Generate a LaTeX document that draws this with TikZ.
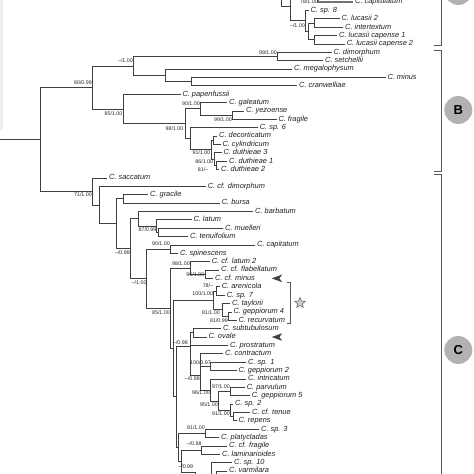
\documentclass[tikz,border=0pt]{standalone}
\usepackage{fontspec}
\newfontfamily\ars{Liberation Sans}
\usetikzlibrary{shapes.geometric}
\begin{document}
\begin{tikzpicture}[x=1pt,y=-1pt,
  br/.style={line width=0.7pt,draw=black!75},
  leaf/.style={anchor=west,inner xsep=1.6pt,inner ysep=0pt,text height=5.2pt,text depth=1.4pt,font=\ars\itshape\fontsize{7.4}{8}\selectfont,text=black!88},
  sup/.style={anchor=east,inner sep=0pt,font=\ars\fontsize{5.3}{6}\selectfont,text=black!85},
  brk/.style={line width=0.8pt,draw=black!65},
  cladecirc/.style={circle,fill=black!30,minimum size=28pt,inner sep=0pt,font=\ars\bfseries\fontsize{13}{14}\selectfont},
  arrmark/.style={fill=black!75},
  starmark/.style={star,star points=5,star point ratio=2.3,minimum size=11pt,inner sep=0pt,draw=black!60,fill=black!18,line width=0.6pt}
]
\useasboundingbox (0,0) rectangle (474,474);
\clip (0,0) rectangle (474,474);
\fill[black!7] (0,0) rectangle (3,130);

% ---------- leaves ----------
\foreach \n/\x/\y/\t in {
 capitulatum/353.4/2/C. capitulatum,
 sp8/308.9/10.375/C. sp. 8,
 lucasiiB/339.9/18.75/C. lucasii 2,
 intertextum/343.4/27.125/C. intertextum,
 capenseA/337.4/35.5/C. lucasii capense 1,
 capenseB/345.1/43.875/C. lucasii capense 2,
 dimorphum/331.7/52.25/C. dimorphum,
 setchellii/323.4/60.625/C. setchellii,
 megalophysum/292.4/69/C. megalophysum,
 minus/385.7/77.375/C. minus,
 cranwelliae/297.4/85.75/C. cranwelliae,
 papenfussii/180.7/94.125/C. papenfussii,
 galeatum/227.4/102.5/C. galeatum,
 yezoense/244.4/110.875/C. yezoense,
 fragile/276.7/119.25/C. fragile,
 spsix/258.1/127.625/C. sp. 6,
 decorticatum/217.4/136/C. decorticatum,
 cylindricum/220.7/144.375/C. cylindricum,
 duthC/221.7/152.75/C. duthieae 3,
 duthA/227.4/161.125/C. duthieae 1,
 duthB/219.4/169.5/C. duthieae 2,
 saccatum/107.4/177.875/C. saccatum,
 cfdimorphum/206.1/186.25/C. cf. dimorphum,
 gracile/148.4/194.625/C. gracile,
 bursa/220.1/203/C. bursa,
 barbatum/253.4/211.375/C. barbatum,
 latum/191.7/219.75/C. latum,
 muelleri/223.4/228.125/C. muelleri,
 tenuifolium/188.4/236.5/C. tenuifolium,
 capitatum/255.4/244.875/C. capitatum,
 spinescens/178.4/253.25/C. spinescens,
 cflatum/210.1/261.625/C. cf. latum 2,
 cfflabellatum/219.4/270/C. cf. flabellatum,
 cfminus/213.4/278.375/C. cf. minus,
 arenicola/220.1/286.75/C. arenicola,
 spseven/225.1/295.125/C. sp. 7,
 taylorii/230.4/303.5/C. taylorii,
 geppD/231.7/311.875/C. geppiorum 4,
 recurvatum/236.7/320.25/C. recurvatum,
 subtubulosum/221.4/328.625/C. subtubulosum,
 ovale/206.7/337/C. ovale,
 prostratum/228.4/345.375/C. prostratum,
 contractum/223.4/353.75/C. contractum,
 spone/246.4/362.125/C. sp. 1,
 geppB/236.7/370.5/C. geppiorum 2,
 intricatum/246.4/378.875/C. intricatum,
 parvulum/245.1/387.25/C. parvulum,
 geppE/250.1/395.625/C. geppiorum 5,
 sptwo/233.4/404/C. sp. 2,
 cftenue/250.4/412.375/C. cf. tenue,
 repens/236.7/420.75/C. repens,
 spthree/259.4/429.125/C. sp. 3,
 platycladas/219.4/437.5/C. platycladas,
 cffragile/227.4/445.875/C. cf. fragile,
 laminarioides/220.4/454.25/C. laminarioides,
 spten/232.4/462.625/C. sp. 10,
 varmilara/227.4/471/C. varmilara}
 \node[leaf] (\n) at (\x,\y) {\t};

% ---------- internal nodes ----------
\foreach \n/\x/\y in {
 nAz/281.7/-20, nAa/290/6, nAu/300/-8.84, nAb/305/20.84, nAc/308.3/31.31, nAd/314/22.94, nAe/314/39.69, nAcap/318/-10,
 tip/-5/139.42, root/40/139.42,
 nB/92/87.39, nBa/133.3/65.86, nBb/277.7/56.44, nBc/165.7/75.28, nBd/191/81.56,
 nBe/123.3/108.91, nBf/185/123.7, nBg/200/108.78, nBh/232/115.06, nBi/190/138.62,
 nBj/211/149.61, nBk/213/140.19, nBl/214/159.03, nBm/216/165.31,
 nC/92.3/191.44, nCa/99/205, nCb/116.7/223.75, nCc/123.3/198.81, nCd/130/248.68,
 nCe/138.3/218.7, nCf/156.7/226.03, nCg/158.3/232.31, nCh/146.7/278.66,
 nCi/170/249.06, nCj/170/308.25, nCk/190/267.91, nCl/205/274.19, nCm/173.3/348.6,
 nCn/213.3/300.36, nCo/216.7/290.94, nCp/222/309.78, nCq/228/316.06,
 nCr/176.7/396.83, nCs/190/346.49, nCt/193.3/332.81, nCu/190/360.16,
 nCv/200/374.95, nCw/200/360.03, nCx/210/366.31, nCy/210/389.87, nCz/218/400.86,
 nDa/230/391.44, nDb/230/410.28, nDc/233.3/416.56,
 nDd/178.3/447.17, nDe/205/433.31, nDf/181.7/461.03, nDg/201.7/450.06,
 nDh/195/472, nDi/211.7/476, nDj/205/495, nDk/216.7/489.5, nDl/225/508}
 \coordinate (\n) at (\x,\y);

% ---------- branches to internal nodes ----------
\foreach \p/\c in {
 nAz/nAa, nAa/nAu, nAa/nAb, nAb/nAc, nAc/nAd, nAc/nAe,
 root/nB, root/nC,
 nB/nBa, nB/nBe, nBa/nBb, nBa/nBc, nBc/nBd, nBe/nBf, nBf/nBg, nBf/nBi,
 nBg/nBh, nBi/nBj, nBj/nBk, nBj/nBl, nBl/nBm,
 nC/nCa, nCa/nCb, nCb/nCc, nCb/nCd, nCd/nCe, nCd/nCh, nCe/nCf, nCf/nCg,
 nCh/nCi, nCh/nCj, nCj/nCk, nCj/nCm, nCk/nCl, nCm/nCn, nCm/nCr,
 nCn/nCo, nCn/nCp, nCp/nCq, nCr/nCs, nCr/nDd, nCs/nCt, nCs/nCu, nCu/nCv,
 nCv/nCw, nCv/nCy, nCw/nCx, nCy/nCz, nCz/nDa, nCz/nDb, nDb/nDc,
 nDd/nDe, nDd/nDf, nDf/nDg, nDf/nDh, nDh/nDi, nDh/nDj, nDi/nDk, nDk/nDl}
 \draw[br] (\p) |- (\c);
\draw[br] (tip) -- (root);

% ---------- branches to leaves ----------
\foreach \p/\c in {
 nAb/sp8, nAd/lucasiiB, nAd/intertextum, nAe/capenseA, nAe/capenseB,
 nBb/dimorphum, nBb/setchellii, nBc/megalophysum, nBd/minus, nBd/cranwelliae,
 nBe/papenfussii, nBg/galeatum, nBh/yezoense, nBh/fragile, nBi/spsix,
 nBk/decorticatum, nBk/cylindricum, nBl/duthC, nBm/duthA, nBm/duthB,
 nC/saccatum, nCa/cfdimorphum, nCc/gracile, nCc/bursa, nCe/barbatum,
 nCf/latum, nCg/muelleri, nCg/tenuifolium, nCi/capitatum, nCi/spinescens,
 nCk/cflatum, nCl/cfflabellatum, nCl/cfminus, nCo/arenicola, nCo/spseven,
 nCp/taylorii, nCq/geppD, nCq/recurvatum, nCt/subtubulosum, nCt/ovale,
 nCu/prostratum, nCw/contractum, nCx/spone, nCx/geppB, nCy/intricatum,
 nDa/parvulum, nDa/geppE, nDb/sptwo, nDc/cftenue, nDc/repens,
 nDe/spthree, nDe/platycladas, nDg/cffragile, nDg/laminarioides,
 nDi/spten, nDk/varmilara}
 \draw[br] (\p) |- (\c.west);
\draw[line width=2pt,draw=black!55] (nAcap) |- (capitulatum.west);

% ---------- support values ----------
\foreach \n/\x/\y/\t in {
 sa/318/2/{78/1.00}, sb/305/25.5/{–/1.00}, sc/277/52.3/{99/1.00}, sd/133/61/{–/1.00},
 se/92/82.3/{80/0.99}, sf/122.5/113.3/{85/1.00}, sg/200/104/{90/1.00}, sh/232/119.3/{99/1.00},
 si/183.5/128.3/{98/1.00}, sj/210.5/152.3/{91/1.00}, sk/213.3/161.7/{86/1.00}, sl/208.5/169.5/{81/–},
 sm/92/195/{71/1.00}, sn/156.5/230/{87/0.99}, so/130/252.7/{–/0.98}, sp/170/243.3/{90/1.00},
 sq/190/263.3/{98/1.00}, sr/204.3/275/{96/1.00}, ss/146.7/282.7/{–/1.00}, st/213.3/286/{78/–},
 su/213.3/293.3/{100/1.00}, sv/220/312.3/{81/1.00}, sw/228/320.7/{81/0.99}, sx/170/312.7/{85/1.00},
 sy/188/342.5/{–/0.98}, sz/211/362.5/{100/0.97}, ta/200/378.5/{–/0.98}, tb/230/386.5/{97/1.00},
 tc/210/393/{96/1.00}, td/218/404.3/{95/1.00}, te/230/413.3/{91/1.00}, tf/205/427.3/{81/1.00},
 tg/201.7/444/{–/0.98}, th/193.3/466.5/{–/0.99}}
 \node[sup] (\n) at (\x,\y) {\t};

% ---------- markers ----------
\foreach \n/\y in {mka/278.375, mkb/337}{
 \coordinate (\n) at (271.7,\y);
 \fill[arrmark] (\n) -- ++(10.5,-3.8) -- ++(-2.8,3.8) -- ++(2.8,3.8) -- cycle;
}
\draw[brk,line width=0.6pt] (286.7,282.7) -- (290.7,282.7) -- (290.7,323.3) -- (286.7,323.3);
\node[starmark] (starA) at (300,303) {};

% ---------- clade brackets ----------
\draw[brk] (441,-5) -- (441,45.7) -- (434,45.7);
\draw[brk] (434,50) -- (441,50) -- (441,171.7) -- (434,171.7);
\draw[brk] (434,174.3) -- (441,174.3) -- (441,480);
\node[cladecirc] (cA) at (458.3,-9) {A};
\node[cladecirc] (cB) at (458.3,110) {B};
\node[cladecirc] (cC) at (458.3,350) {C};
\end{tikzpicture}
\end{document}
